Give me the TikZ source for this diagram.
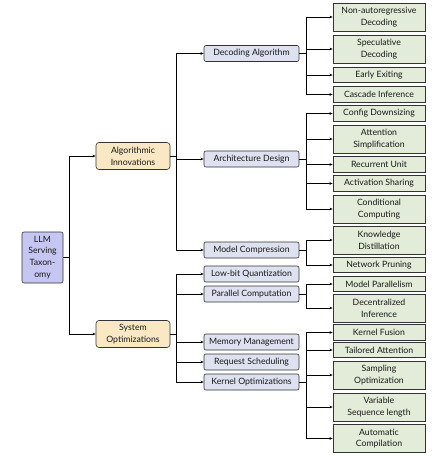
\documentclass[tikz,border=0pt]{standalone}
\usepackage{fontspec}
\setmainfont{Lato}
\usetikzlibrary{arrows.meta}
\definecolor{rootc}{HTML}{C6C6F2}
\definecolor{lonec}{HTML}{F9E8C3}
\definecolor{ltwoc}{HTML}{DDE1F0}
\definecolor{lthreec}{HTML}{E3ECD8}
\definecolor{edgec}{HTML}{333333}
\begin{document}
\begin{tikzpicture}[x=1pt,y=-1pt,
  every node/.style={font=\fontsize{8.7}{11.8}\selectfont, text=black!90, align=center, inner sep=0pt, draw=edgec, line width=0.6pt},
  rootbox/.style={fill=rootc, rounded corners=2pt, minimum width=41pt, text width=38pt},
  lonebox/.style={fill=lonec, rounded corners=3pt, minimum width=74pt, minimum height=27pt},
  ltwobox/.style={fill=ltwoc, rounded corners=2pt, minimum width=95pt, minimum height=16pt},
  lthreebox/.style={fill=lthreec, minimum width=92pt},
  one/.style={minimum height=15.5pt},
  two/.style={minimum height=28pt},
  conn/.style={draw=black, line width=0.7pt, -{Stealth[length=3.2pt,width=2.6pt]}}
]
\useasboundingbox (0,0) rectangle (446,459);
% root
\node[rootbox, minimum height=51pt] (root) at (42.5,257.5) {LLM\\Serving\\Taxon-\\omy};
% level 1
\node[lonebox] (alg) at (133,156) {Algorithmic\\Innovations};
\node[lonebox] (sys) at (133,334) {System\\Optimizations};
% level 2
\node[ltwobox] (dec) at (251.5,53.5) {Decoding Algorithm};
\node[ltwobox] (arc) at (251.5,159) {Architecture Design};
\node[ltwobox] (mc) at (251.5,250) {Model Compression};
\node[ltwobox] (lbq) at (251.5,274) {Low-bit Quantization};
\node[ltwobox] (pc) at (251.5,294) {Parallel Computation};
\node[ltwobox] (mm) at (251.5,342) {Memory Management};
\node[ltwobox] (rs) at (251.5,362) {Request Scheduling};
\node[ltwobox] (ko) at (251.5,382) {Kernel Optimizations};
% level 3
\node[lthreebox, two] (nad) at (379,17) {Non-autoregressive\\Decoding};
\node[lthreebox, two] (spd) at (379,49) {Speculative\\Decoding};
\node[lthreebox, one] (ee) at (379,75) {Early Exiting};
\node[lthreebox, one] (ci) at (379,94.5) {Cascade Inference};
\node[lthreebox, one] (cd) at (379,113.5) {Config Downsizing};
\node[lthreebox, two] (as) at (379,139) {Attention\\Simplification};
\node[lthreebox, one] (ru) at (379,164.5) {Recurrent Unit};
\node[lthreebox, one] (ash) at (379,183.5) {Activation Sharing};
\node[lthreebox, two] (cc) at (379,209) {Conditional\\Computing};
\node[lthreebox, two] (kd) at (379,240) {Knowledge\\Distillation};
\node[lthreebox, one] (np) at (379,265) {Network Pruning};
\node[lthreebox, one] (mp) at (379,284) {Model Parallelism};
\node[lthreebox, two] (di) at (379,308) {Decentralized\\Inference};
\node[lthreebox, one] (kf) at (379,332.5) {Kernel Fusion};
\node[lthreebox, one] (ta) at (379,350) {Tailored Attention};
\node[lthreebox, two] (so) at (379,375) {Sampling\\Optimization};
\node[lthreebox, two] (vsl) at (379,407) {Variable\\Sequence length};
\node[lthreebox, two] (ac) at (379,438.5) {Automatic\\Compilation};
% connectors
\foreach \c in {alg,sys} \draw[conn] (root.east) -- ++(6,0) |- (\c.west);
\foreach \c in {dec,arc,mc} \draw[conn] (alg.east) -- ++(6,0) |- (\c.west);
\foreach \c in {lbq,pc,mm,rs,ko} \draw[conn] (sys.east) -- ++(6,0) |- (\c.west);
\foreach \c in {nad,spd,ee,ci} \draw[conn] (dec.east) -- ++(7,0) |- (\c.west);
\foreach \c in {cd,as,ru,ash,cc} \draw[conn] (arc.east) -- ++(7,0) |- (\c.west);
\foreach \c in {kd,np} \draw[conn] (mc.east) -- ++(7,0) |- (\c.west);
\foreach \c in {mp,di} \draw[conn] (pc.east) -- ++(7,0) |- (\c.west);
\foreach \c in {kf,ta,so,vsl,ac} \draw[conn] (ko.east) -- ++(7,0) |- (\c.west);
\end{tikzpicture}
\end{document}
